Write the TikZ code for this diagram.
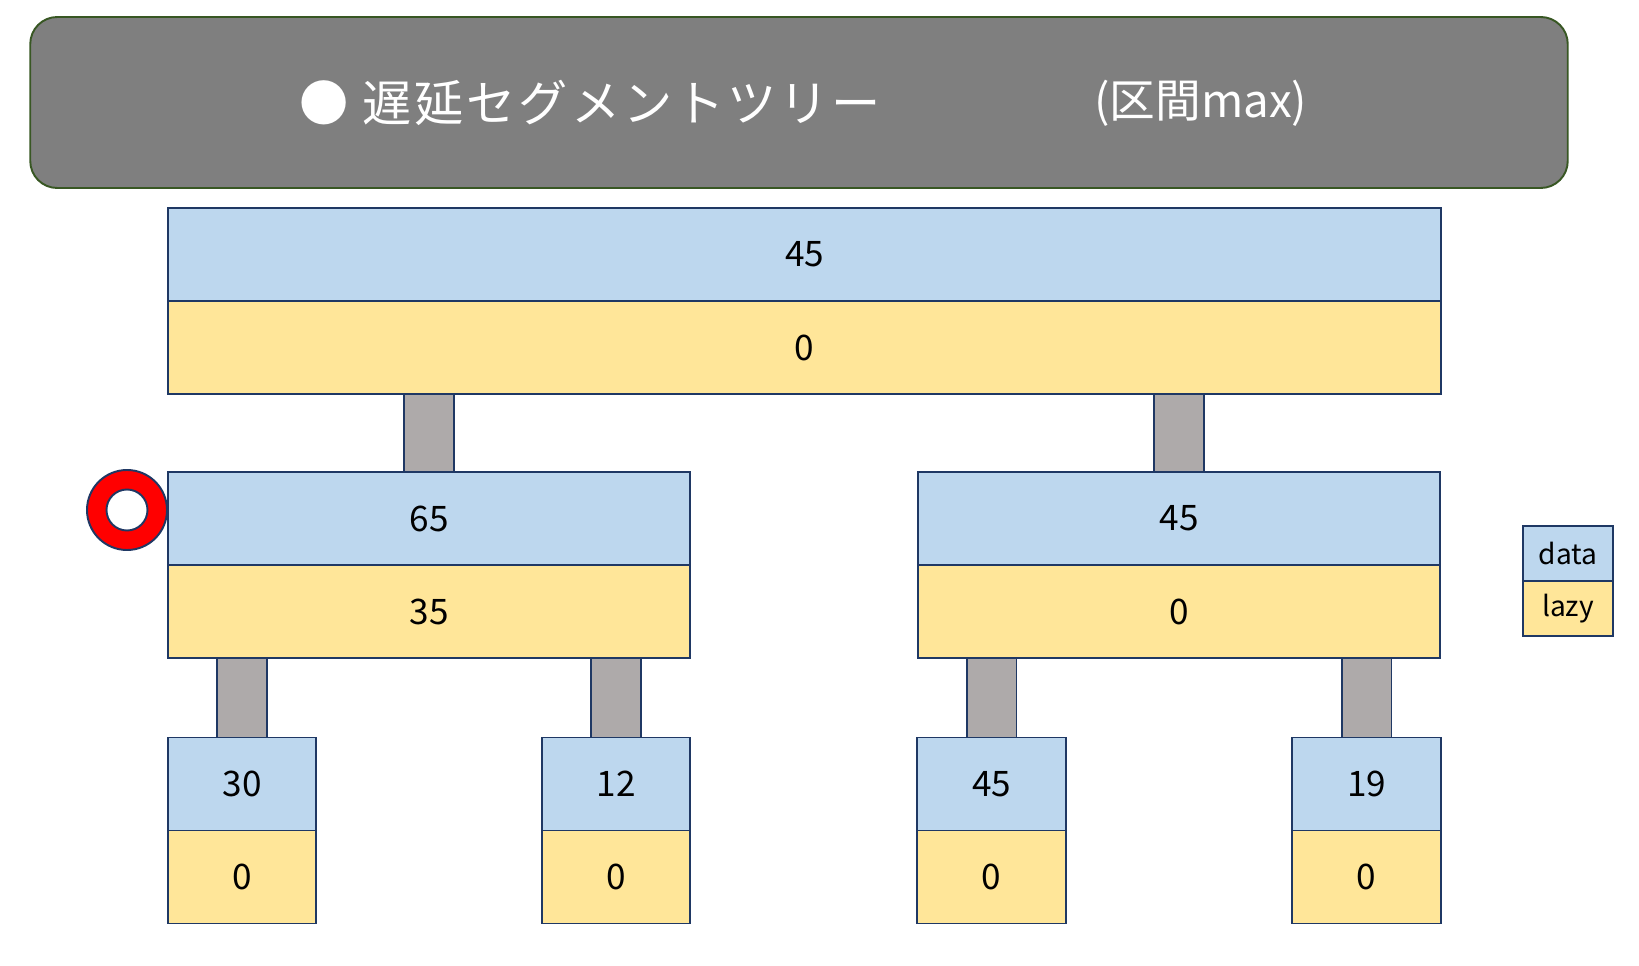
\documentclass[tikz,border=0pt]{standalone}
\usepackage{fontspec}
\setmainfont{Noto Sans CJK JP}
\usetikzlibrary{positioning}
\definecolor{cellblue}{HTML}{BDD7EE}
\definecolor{cellyellow}{HTML}{FFE699}
\definecolor{cellline}{HTML}{1F3864}
\definecolor{bargray}{HTML}{AEAAAA}
\definecolor{titlegray}{HTML}{7F7F7F}
\definecolor{titleline}{HTML}{385723}

\begin{document}
\begin{tikzpicture}
			\useasboundingbox (0,0) rectangle (32.78,-19.32);
			\tikzstyle{cell} = [draw=cellline, line width=1.1pt, outer sep=0pt, inner sep=0pt, minimum height=1.86cm, font=\fontsize{20pt}{24pt}\selectfont]
			\tikzstyle{datacell} = [cell, fill=cellblue]
			\tikzstyle{lazycell} = [cell, fill=cellyellow]
			\tikzstyle{wide} = [minimum width=25.45cm]
			\tikzstyle{half} = [minimum width=10.45cm]
			\tikzstyle{leaf} = [minimum width=2.965cm]
			\tikzstyle{legend} = [minimum width=1.8cm, minimum height=1.1cm, font=\fontsize{16pt}{19pt}\selectfont]
			\tikzstyle{title} = [text=white, anchor=west, inner sep=0pt]
			\tikzset{link/.style = {draw=cellline, line width=1.1pt, double=bargray, double distance=0.96cm, shorten <=0.55pt, shorten >=0.55pt}}
			
			\node[draw=titleline, line width=1.1pt, fill=titlegray, rounded corners=0.54cm, minimum width=30.75cm, minimum height=3.42cm](banner) at (15.98,-2.05) {};
			\node[title, font=\fontsize{28pt}{34pt}\selectfont\addfontfeatures{LetterSpace=6}](titlename) at (5.98,-2.06) {● 遅延セグメントツリー};
			\node[title, font=\fontsize{26pt}{32pt}\selectfont](titlenote) at (21.88,-2.06) {(区間max)};
			
			\node[datacell, wide](data1) at (16.09,-5.09) {45};
			\node[lazycell, wide, below=0pt of data1](lazy1) {0};
			
			\node[datacell, half](data2) at (8.584,-10.37) {65};
			\node[lazycell, half, below=0pt of data2](lazy2) {35};
			\node[datacell, half](data3) at (23.58,-10.37) {45};
			\node[lazycell, half, below=0pt of data3](lazy3) {0};
			
			\node[datacell, leaf](data4) at (4.843,-15.68) {30};
			\node[lazycell, leaf, below=0pt of data4](lazy4) {0};
			\node[datacell, leaf](data5) at (12.325,-15.68) {12};
			\node[lazycell, leaf, below=0pt of data5](lazy5) {0};
			\node[datacell, leaf](data6) at (19.83,-15.68) {45};
			\node[lazycell, leaf, below=0pt of data6](lazy6) {0};
			\node[datacell, leaf](data7) at (27.33,-15.68) {19};
			\node[lazycell, leaf, below=0pt of data7](lazy7) {0};
			
			\draw[link](lazy1.south -| data2.north) to (data2.north);
			\draw[link](lazy1.south -| data3.north) to (data3.north);
			\draw[link](lazy2.south -| data4.north) to (data4.north);
			\draw[link](lazy2.south -| data5.north) to (data5.north);
			\draw[link](lazy3.south -| data6.north) to (data6.north);
			\draw[link](lazy3.south -| data7.north) to (data7.north);
			
			\coordinate(mark) at (2.54,-10.2);
			\filldraw[fill=red, draw=cellline, line width=1.1pt, even odd rule](mark) circle (0.8) circle (0.41);
			
			\node[datacell, legend](legenddata) at (31.36,-11.07) {data};
			\node[lazycell, legend, below=0pt of legenddata](legendlazy) {lazy};
			
\end{tikzpicture}
\end{document}
